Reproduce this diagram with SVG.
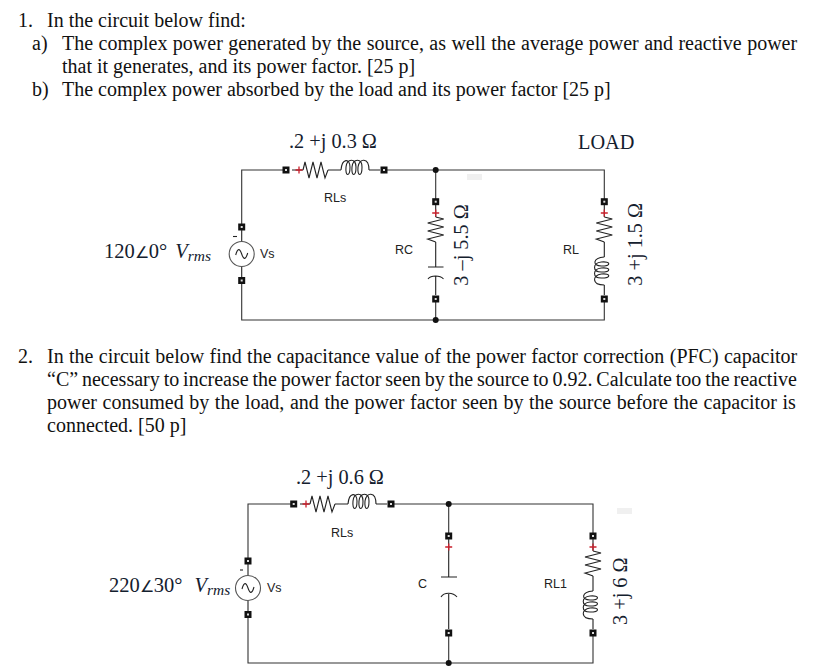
<svg xmlns="http://www.w3.org/2000/svg" xmlns:xlink="http://www.w3.org/1999/xlink" width="826" height="672" viewBox="0 0 826 672">
<style>
text{fill:#111}
.b{font-family:"Liberation Serif","Times New Roman",serif;font-size:20px}
.l{font-family:"Liberation Serif","Times New Roman",serif;font-size:20.3px;fill:#14202e}
.m{font-family:"Liberation Serif","Times New Roman",serif;font-size:20.5px;fill:#14202e}
.i{font-style:italic}
.a{font-size:16px}
.s{font-family:"Liberation Sans",Arial,sans-serif;font-size:12.5px;fill:#222}
.w{fill:none;stroke:#333;stroke-width:1.1}
.g{fill:none;stroke:#222;stroke-width:1.1}
.p{fill:none;stroke:#c8202c;stroke-width:1.3}
</style>
<defs>
<g id="term"><rect x="-3.5" y="-3.5" width="7" height="7" fill="#111"/><rect x="-1" y="-1" width="2" height="2" fill="#ddd"/></g>
<g id="res"><path class="g" d="M0,0 L2,-8 L6,8 L10,-8 L14,8 L18,-8 L22,8 L25,0"/></g>
<g id="ind"><path class="g" d="M0,0 C1,-12 9,-12 9,-3 C9,7 4,7 5,-3 C6,-12 15,-12 15,-3 C15,7 10,7 11,-3 C12,-12 21,-12 21,-3 C21,7 16,7 17,-3 C18,-12 28,-13 28,0"/></g>
<g id="plus"><path class="p" d="M-3.5,0H3.5M0,-3.5V3.5"/></g>
<g id="src"><circle r="12.5" fill="#fff" stroke="#555" stroke-width="1.1"/><path class="g" d="M-6,1 C-4,-6 -2,-6 0,0 C2,6 4,6 6,-1"/></g>
</defs>

<g id="text-problem-1">
<text class="b" x="18" y="27">1.</text>
<text class="b" x="47" y="27">In the circuit below find:</text>
<text class="b" x="32" y="50">a)</text>
<text class="b" x="62" y="50" word-spacing="0.43">The complex power generated by the source, as well the average power and reactive power</text>
<text class="b" x="62" y="73">that it generates, and its power factor. [25 p]</text>
<text class="b" x="32" y="96">b)</text>
<text class="b" x="62" y="96">The complex power absorbed by the load and its power factor [25 p]</text>
</g>
<g id="text-problem-2">
<text class="b" x="18" y="363">2.</text>
<text class="b" x="47" y="363" word-spacing="0.36">In the circuit below find the capacitance value of the power factor correction (PFC) capacitor</text>
<text class="b" x="47" y="386" word-spacing="-1.1">“C” necessary to increase the power factor seen by the source to 0.92. Calculate too the reactive</text>
<text class="b" x="47" y="409" word-spacing="0.6">power consumed by the load, and the power factor seen by the source before the capacitor is</text>
<text class="b" x="47" y="432">connected. [50 p]</text>
</g>

<g id="connectors">
<path class="w" d="M286,170H241.7V227M241.7,280.5V320H604.3V299M384,170H604.3V201.7M435.7,170V201.7M435.7,299V320"/>
<path class="w" d="M293.7,504H248V561M248,614.5V663H593V633M391,504H593V536M448.7,504V536M448.7,633V663"/>
</g>

<g id="Vs1">
<use xlink:href="#term" href="#term" x="241.7" y="227"/>
<use xlink:href="#term" href="#term" x="241.7" y="280.5"/>
<path class="g" d="M241.7,230V241.5M241.7,266.5V277"/>
<use xlink:href="#src" href="#src" x="241.7" y="254"/>
<path class="g" d="M233,236.5h4"/>
<text class="s" x="260" y="258">Vs</text>
<text class="m" x="104" y="258">120<tspan class="a">∠</tspan>0°<tspan class="i" dx="8">V</tspan><tspan class="i" font-size="15.5" dy="3">rms</tspan></text>
</g>
<g id="RLs1">
<use xlink:href="#term" href="#term" x="286" y="170"/>
<use xlink:href="#term" href="#term" x="384" y="170"/>
<path class="g" d="M292,170H303M328,170H341M369,170H380"/>
<use xlink:href="#res" href="#res" x="303" y="170"/>
<use xlink:href="#ind" href="#ind" x="341" y="170"/>
<use xlink:href="#plus" href="#plus" x="299" y="170"/>
<text class="s" x="324" y="202">RLs</text>
<text class="l" x="289" y="148">.2 +j 0.3 Ω</text>
</g>
<g id="RC1">
<circle cx="435.7" cy="170" r="3" fill="#111"/>
<circle cx="435.7" cy="320" r="3" fill="#111"/>
<use xlink:href="#term" href="#term" x="435.7" y="201.7"/>
<use xlink:href="#term" href="#term" x="435.7" y="299"/>
<path class="g" d="M435.7,205V217M435.7,242V267M428,267H443.5M428,279C431,275 440,275 443.5,279M435.7,276V295"/>
<use xlink:href="#res" href="#res" transform="translate(435.7,217) rotate(90)"/>
<use xlink:href="#plus" href="#plus" x="435.7" y="213"/>
<text class="s" x="395" y="254">RC</text>
<text class="l" transform="translate(468,285.7) rotate(-90)">3 –j 5.5 Ω</text>
<rect x="467" y="174" width="15" height="6" fill="#f0f0f0"/>
</g>
<g id="RL1">
<use xlink:href="#term" href="#term" x="604.3" y="201.7"/>
<use xlink:href="#term" href="#term" x="604.3" y="299"/>
<path class="g" d="M604.3,205V217M604.3,242V257M604.3,285V295"/>
<use xlink:href="#res" href="#res" transform="translate(604.3,217) rotate(90)"/>
<use xlink:href="#ind" href="#ind" transform="translate(604.3,257) rotate(90) scale(1,-1)"/>
<use xlink:href="#plus" href="#plus" x="604.3" y="213"/>
<text class="s" x="563" y="254">RL</text>
<text class="l" transform="translate(641.7,285.7) rotate(-90)">3 +j 1.5 Ω</text>
<text class="l" x="578" y="149">LOAD</text>
</g>

<g id="Vs2">
<use xlink:href="#term" href="#term" x="248" y="561"/>
<use xlink:href="#term" href="#term" x="248" y="614.5"/>
<path class="g" d="M248,564V575.5M248,600.5V611"/>
<use xlink:href="#src" href="#src" x="248" y="588"/>
<path class="g" d="M240,570h3"/>
<text class="s" x="267" y="592">Vs</text>
<text class="m" x="109" y="592">220<tspan class="a">∠</tspan>30°<tspan class="i" dx="12">V</tspan><tspan class="i" font-size="15.5" dy="3">rms</tspan></text>
</g>
<g id="RLs2">
<use xlink:href="#term" href="#term" x="293.7" y="504"/>
<use xlink:href="#term" href="#term" x="391" y="504"/>
<path class="g" d="M300,504H310M335,504H348M376,504H387"/>
<use xlink:href="#res" href="#res" x="310" y="504"/>
<use xlink:href="#ind" href="#ind" x="348" y="504"/>
<use xlink:href="#plus" href="#plus" x="306" y="504"/>
<text class="s" x="331" y="537">RLs</text>
<text class="l" x="296" y="484">.2 +j 0.6 Ω</text>
</g>
<g id="C2">
<circle cx="448.7" cy="504" r="3" fill="#111"/>
<circle cx="448.7" cy="663" r="3" fill="#111"/>
<use xlink:href="#term" href="#term" x="448.7" y="536"/>
<use xlink:href="#term" href="#term" x="448.7" y="633"/>
<path class="g" d="M448.7,539V577M441,577H457M441,597C444,592 453,592 457,597M448.7,594V629"/>
<use xlink:href="#plus" href="#plus" x="448.7" y="547"/>
<text class="s" x="418" y="588">C</text>
</g>
<g id="RL1-2">
<use xlink:href="#term" href="#term" x="593" y="536"/>
<use xlink:href="#term" href="#term" x="593" y="633"/>
<path class="g" d="M593,539V551M593,576V591M593,619V629"/>
<use xlink:href="#res" href="#res" transform="translate(593,551) rotate(90)"/>
<use xlink:href="#ind" href="#ind" transform="translate(593,591) rotate(90) scale(1,-1)"/>
<use xlink:href="#plus" href="#plus" x="593" y="547"/>
<text class="s" x="544" y="588">RL1</text>
<text class="l" transform="translate(626.7,625) rotate(-90)">3 +j 6 Ω</text>
<rect x="617" y="508" width="15" height="6" fill="#f0f0f0"/>
</g>
</svg>
